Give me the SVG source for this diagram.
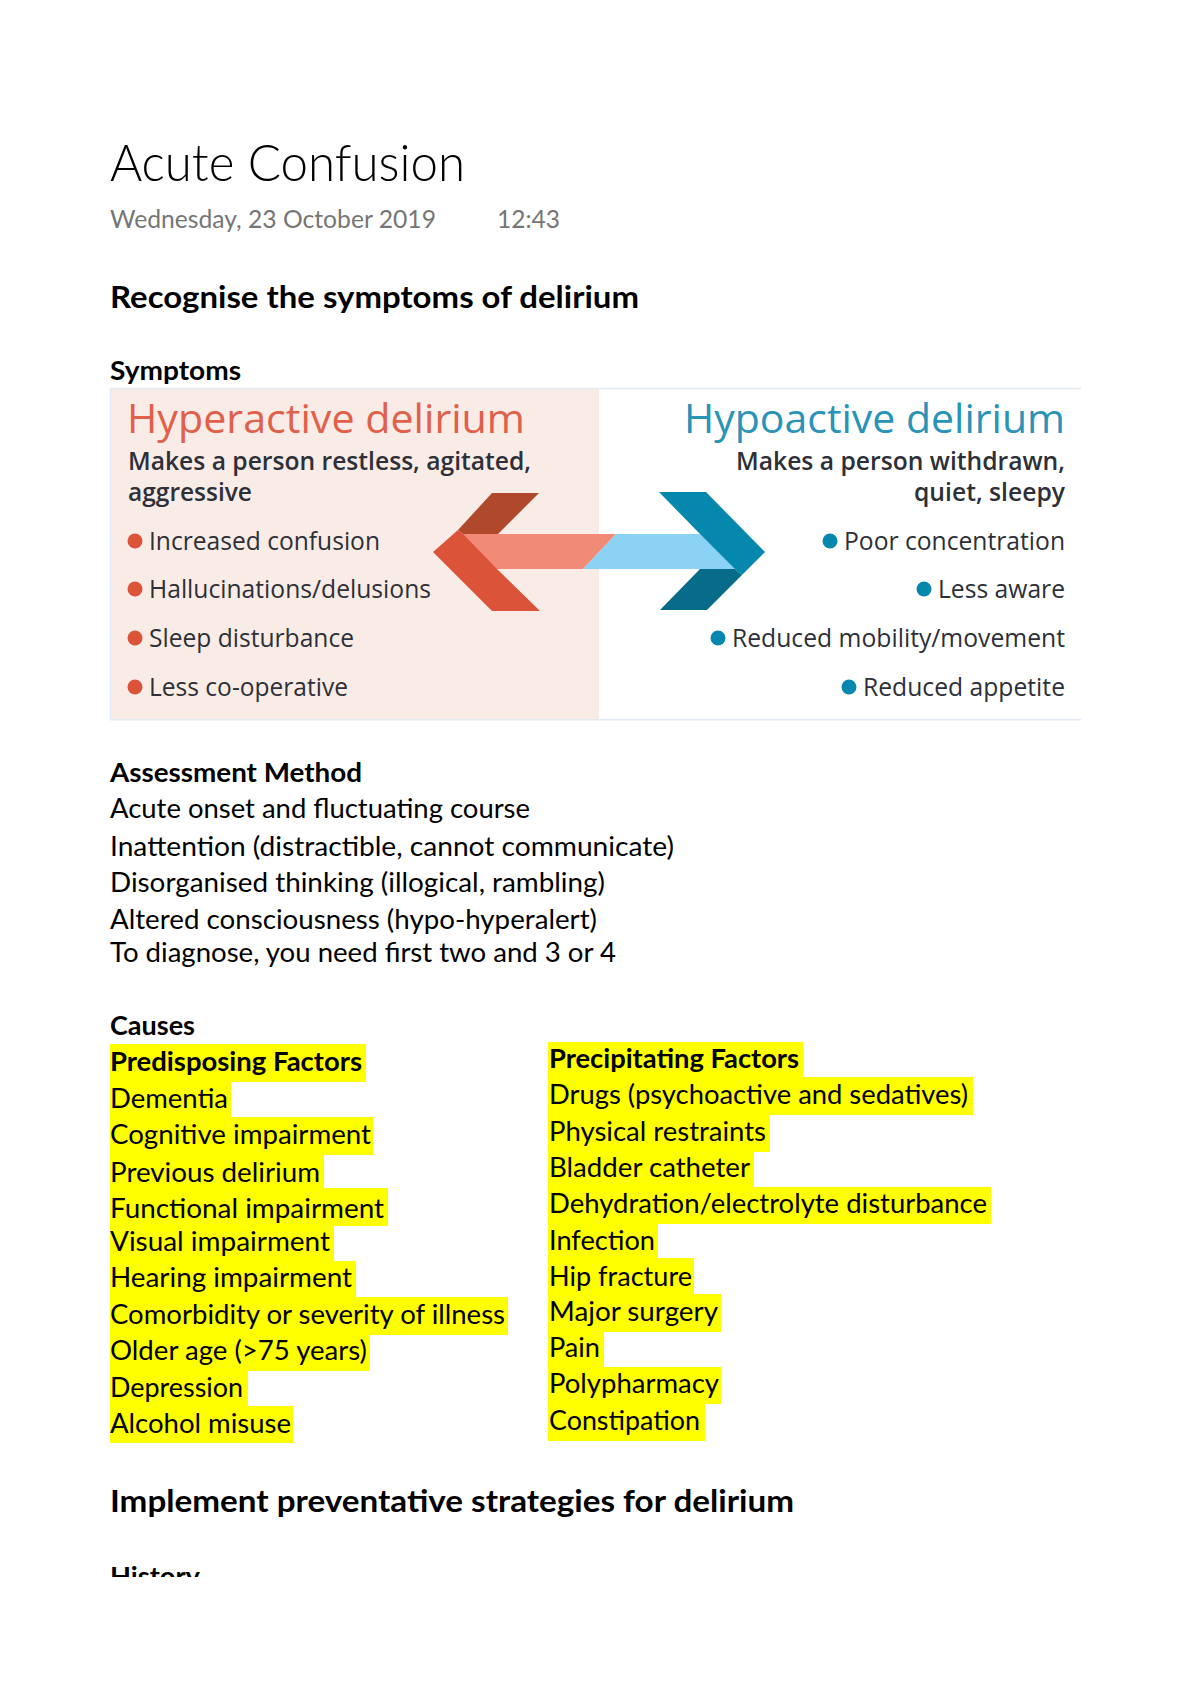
<svg xmlns="http://www.w3.org/2000/svg" width="1200" height="1698" viewBox="0 0 1200 1698">
<style>
text{font-family:"Lato","Liberation Sans",sans-serif;fill:#000}
.t{font-size:26px}
.b{font-size:26px;font-weight:700}
.h{font-size:30px;font-weight:700}
.d{font-size:25px;fill:#767676}
.o{font-family:"Open Sans","Noto Sans",sans-serif;fill:#2d3038}
.s{font-size:25px;font-weight:600}
.i{font-size:25px}
.red{font-size:41px;fill:#e0604a}
.blue{font-size:41px;fill:#2a93b8}
.y{fill:#ffff00}
.rb{fill:#db5338}
.bb{fill:#0587ae}
.edge{stroke:#e1eaf3;stroke-width:1.500;fill:none}
</style>
<defs><clipPath id="pg"><rect x="0" y="0" width="1200" height="1577"/></clipPath></defs>
<rect width="1200" height="1698" fill="#fff"/>
<g id="header">
<text x="110" y="181" font-size="52" font-weight="300" textLength="355" lengthAdjust="spacingAndGlyphs">Acute Confusion</text>
<text class="d" x="110" y="228" textLength="326" lengthAdjust="spacingAndGlyphs">Wednesday, 23 October 2019</text>
<text class="d" x="497" y="228" textLength="63" lengthAdjust="spacingAndGlyphs">12:43</text>
<text class="h" x="110" y="308" textLength="529" lengthAdjust="spacingAndGlyphs">Recognise the symptoms of delirium</text>
<text class="b" x="110" y="380" textLength="131" lengthAdjust="spacingAndGlyphs">Symptoms</text>
</g>
<g id="panel">
<rect x="110" y="389" width="489" height="331" fill="#f9ebe6"/>
<path class="edge" d="M110.500 720V388.500H1081M110 719.800H1081"/>
</g>
<g id="connectors">
<polygon points="463,534 616,534 583,569 463,569 445,552" fill="#f18a76"/>
<polygon points="616,534 700,534 737,569 583,569" fill="#8bd2f5"/>
<polygon points="458,530 492,493 539,493 498,534 463,534" fill="#b0492c"/>
<polygon points="433,552 458,530 463,534 497,569 540,611 492,611" class="rb"/>
<polygon points="700,569 735,569 742,575 707,610 660,610" fill="#076c8a"/>
<polygon points="659,492 706,492 765,552 742,575 735,569 700,534" class="bb"/>
</g>
<g id="hyperactive">
<text class="o red" x="127" y="433" textLength="398" lengthAdjust="spacingAndGlyphs">Hyperactive delirium</text>
<text class="o s" x="128" y="470" textLength="403" lengthAdjust="spacingAndGlyphs">Makes a person restless, agitated,</text>
<text class="o s" x="128" y="501" textLength="124" lengthAdjust="spacingAndGlyphs">aggressive</text>
<circle class="rb" cx="135" cy="541" r="7.500"/><text class="o i" x="149" y="550" textLength="231" lengthAdjust="spacingAndGlyphs">Increased confusion</text>
<circle class="rb" cx="135" cy="589" r="7.500"/><text class="o i" x="149" y="598" textLength="282" lengthAdjust="spacingAndGlyphs">Hallucinations/delusions</text>
<circle class="rb" cx="135" cy="638" r="7.500"/><text class="o i" x="149" y="647" textLength="205" lengthAdjust="spacingAndGlyphs">Sleep disturbance</text>
<circle class="rb" cx="135" cy="687" r="7.500"/><text class="o i" x="149" y="696" textLength="199" lengthAdjust="spacingAndGlyphs">Less co-operative</text>
</g>
<g id="hypoactive">
<text class="o blue" x="684" y="433" textLength="381" lengthAdjust="spacingAndGlyphs">Hypoactive delirium</text>
<text class="o s" x="736" y="470" textLength="329" lengthAdjust="spacingAndGlyphs">Makes a person withdrawn,</text>
<text class="o s" x="914" y="501" textLength="151" lengthAdjust="spacingAndGlyphs">quiet, sleepy</text>
<circle class="bb" cx="830" cy="541" r="7.500"/><text class="o i" x="844" y="550" textLength="221" lengthAdjust="spacingAndGlyphs">Poor concentration</text>
<circle class="bb" cx="924" cy="589" r="7.500"/><text class="o i" x="938" y="598" textLength="127" lengthAdjust="spacingAndGlyphs">Less aware</text>
<circle class="bb" cx="718" cy="638" r="7.500"/><text class="o i" x="732" y="647" textLength="333" lengthAdjust="spacingAndGlyphs">Reduced mobility/movement</text>
<circle class="bb" cx="849" cy="687" r="7.500"/><text class="o i" x="863" y="696" textLength="202" lengthAdjust="spacingAndGlyphs">Reduced appetite</text>
</g>
<g id="assessment">
<text class="b" x="110" y="782" textLength="252" lengthAdjust="spacingAndGlyphs">Assessment Method</text>
<text class="t" x="110" y="818" textLength="420" lengthAdjust="spacingAndGlyphs">Acute onset and fluctuating course</text>
<text class="t" x="110" y="856" textLength="564" lengthAdjust="spacingAndGlyphs">Inattention (distractible, cannot communicate)</text>
<text class="t" x="110" y="892" textLength="495" lengthAdjust="spacingAndGlyphs">Disorganised thinking (illogical, rambling)</text>
<text class="t" x="110" y="929" textLength="487" lengthAdjust="spacingAndGlyphs">Altered consciousness (hypo-hyperalert)</text>
<text class="t" x="110" y="962" textLength="506" lengthAdjust="spacingAndGlyphs">To diagnose, you need first two and 3 or 4</text>
<text class="b" x="110" y="1035" textLength="85" lengthAdjust="spacingAndGlyphs">Causes</text>
</g>
<g id="predisposing">
<rect class="y" x="110" y="1044" width="256" height="38"/><text class="b" x="110" y="1071" textLength="252" lengthAdjust="spacingAndGlyphs">Predisposing Factors</text>
<rect class="y" x="110" y="1082" width="121" height="35"/><text class="t" x="110" y="1108" textLength="118" lengthAdjust="spacingAndGlyphs">Dementia</text>
<rect class="y" x="110" y="1117" width="263" height="38"/><text class="t" x="110" y="1144" textLength="261" lengthAdjust="spacingAndGlyphs">Cognitive impairment</text>
<rect class="y" x="110" y="1155" width="214" height="33"/><text class="t" x="110" y="1182" textLength="210" lengthAdjust="spacingAndGlyphs">Previous delirium</text>
<rect class="y" x="110" y="1188" width="278" height="38"/><text class="t" x="110" y="1218" textLength="274" lengthAdjust="spacingAndGlyphs">Functional impairment</text>
<rect class="y" x="110" y="1226" width="224" height="35"/><text class="t" x="110" y="1251" textLength="220" lengthAdjust="spacingAndGlyphs">Visual impairment</text>
<rect class="y" x="110" y="1261" width="246" height="36"/><text class="t" x="110" y="1287" textLength="242" lengthAdjust="spacingAndGlyphs">Hearing impairment</text>
<rect class="y" x="110" y="1297" width="398" height="38"/><text class="t" x="110" y="1324" textLength="395" lengthAdjust="spacingAndGlyphs">Comorbidity or severity of illness</text>
<rect class="y" x="110" y="1335" width="260" height="36"/><text class="t" x="110" y="1360" textLength="257" lengthAdjust="spacingAndGlyphs">Older age (&gt;75 years)</text>
<rect class="y" x="110" y="1371" width="138" height="35"/><text class="t" x="110" y="1397" textLength="133" lengthAdjust="spacingAndGlyphs">Depression</text>
<rect class="y" x="110" y="1406" width="183" height="37"/><text class="t" x="110" y="1433" textLength="181" lengthAdjust="spacingAndGlyphs">Alcohol misuse</text>
</g>
<g id="precipitating">
<rect class="y" x="548" y="1042" width="255" height="35"/><text class="b" x="549" y="1068" textLength="250" lengthAdjust="spacingAndGlyphs">Precipitating Factors</text>
<rect class="y" x="548" y="1077" width="425" height="38"/><text class="t" x="549" y="1104" textLength="419" lengthAdjust="spacingAndGlyphs">Drugs (psychoactive and sedatives)</text>
<rect class="y" x="548" y="1115" width="222" height="37"/><text class="t" x="549" y="1141" textLength="217" lengthAdjust="spacingAndGlyphs">Physical restraints</text>
<rect class="y" x="548" y="1152" width="206" height="35"/><text class="t" x="549" y="1177" textLength="201" lengthAdjust="spacingAndGlyphs">Bladder catheter</text>
<rect class="y" x="548" y="1187" width="443" height="37"/><text class="t" x="549" y="1213" textLength="438" lengthAdjust="spacingAndGlyphs">Dehydration/electrolyte disturbance</text>
<rect class="y" x="548" y="1224" width="110" height="34"/><text class="t" x="549" y="1250" textLength="106" lengthAdjust="spacingAndGlyphs">Infection</text>
<rect class="y" x="548" y="1258" width="146" height="36"/><text class="t" x="549" y="1286" textLength="143" lengthAdjust="spacingAndGlyphs">Hip fracture</text>
<rect class="y" x="548" y="1294" width="173" height="38"/><text class="t" x="549" y="1321" textLength="169" lengthAdjust="spacingAndGlyphs">Major surgery</text>
<rect class="y" x="548" y="1332" width="56" height="35"/><text class="t" x="549" y="1357" textLength="51" lengthAdjust="spacingAndGlyphs">Pain</text>
<rect class="y" x="548" y="1367" width="173" height="37"/><text class="t" x="549" y="1393" textLength="170" lengthAdjust="spacingAndGlyphs">Polypharmacy</text>
<rect class="y" x="548" y="1404" width="157" height="37"/><text class="t" x="549" y="1430" textLength="151" lengthAdjust="spacingAndGlyphs">Constipation</text>
</g>
<g id="footer">
<text class="h" x="110" y="1512" textLength="684" lengthAdjust="spacingAndGlyphs">Implement preventative strategies for delirium</text>
<text class="b" x="110" y="1586" textLength="90" lengthAdjust="spacingAndGlyphs" clip-path="url(#pg)">History</text>
</g>
</svg>
